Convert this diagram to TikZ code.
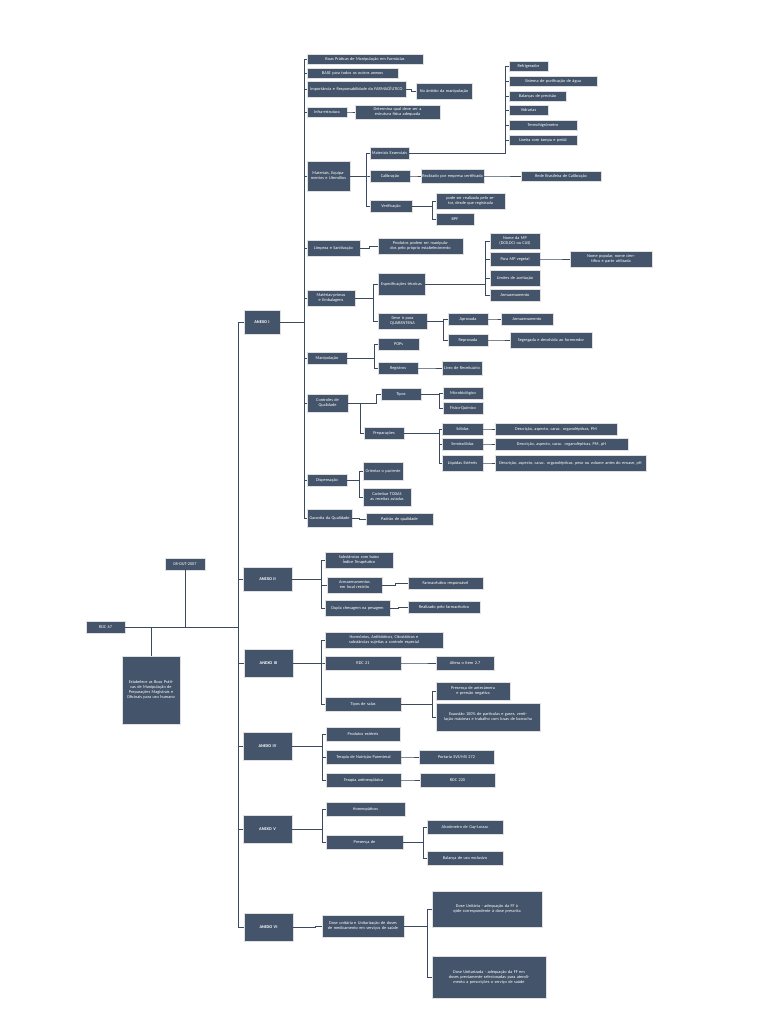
\documentclass[tikz,border=0pt]{standalone}
\usepackage{fontspec}
\setmainfont{Carlito}
\definecolor{bfill}{HTML}{44546A}
\definecolor{bline}{HTML}{3B4A5E}
\tikzset{bx/.style={fill=bfill,draw=black!12,line width=0.8pt,text=white,inner sep=0.5pt,align=center,font=\fontsize{4.3}{5}\selectfont},
ln/.style={draw=bline,line width=0.9pt}}
\newcommand\bx[6]{\pgfmathsetmacro\bw{#3-#2}\pgfmathsetmacro\tw{#3-#2-2}\pgfmathsetmacro\bc{(#3+#2)/2}%
\node[bx,minimum width=\bw pt,text width=\tw pt,minimum height=#5pt] (#1) at (\bc,#4) {#6};}
\newcommand\cn[3]{\draw[ln] (#1.east) -| (#3,0 |- #2.west) -- (#2.west);}
\begin{document}
\begin{tikzpicture}[x=1pt,y=-1pt]
\useasboundingbox (0,0) rectangle (768,1024);
% root
\bx{rdc}{86}{125}{627}{12}{RDC 67}
\bx{data}{165}{205}{564}{12}{08-OUT-2007}
\bx{est}{122}{180}{690}{68}{Estabelece as Boas Práticas de Manipulação de Preparações Magistrais e Oficinais para uso humano}
\coordinate (sp) at (238,627);
\draw[ln] (rdc.east) -- (sp);
\draw[ln] (data.south) -- (data.south |- sp);
\draw[ln] (est.north) -- (est.north |- sp);
% annexes
\bx{a1}{244}{280}{322}{24}{\textbf{ANEXO I}}
\bx{a2}{243}{292}{579}{24}{\textbf{ANEXO II}}
\bx{a3}{244}{293}{663}{28}{\textbf{ANEXO III}}
\bx{a4}{243}{292}{746}{28}{\textbf{ANEXO IV}}
\bx{a5}{243}{292}{829}{28}{\textbf{ANEXO V}}
\bx{a6}{244}{293}{927}{28}{\textbf{ANEXO VI}}
\coordinate (spt) at (238,322);
\coordinate (spb) at (238,927);
\draw[ln] (spt) -- (spb);
\foreach \a in {a1,a2,a3,a4,a5,a6} \draw[ln] (238,0 |- \a.west) -- (\a.west);
% ANEXO I
\bx{b1}{307}{423}{59}{10}{Boas Práticas de Manipulação em Farmácias}
\bx{b2}{307}{398}{73}{10}{BASE para todos os outros anexos}
\bx{b3}{307}{406}{89}{16}{Importância e Responsabilidade do FARMACÊUTICO}
\bx{b3a}{416}{472}{91}{16}{No âmbito da manipulação}
\bx{b4}{307}{347}{112}{10}{Infra-estrutura}
\bx{b4a}{355}{440}{112}{14}{Determina qual deve ser a estrutura física adequada}
\bx{b5}{307}{350}{176}{30}{Materiais, Equipamentos e Utensílios}
\bx{c1}{370}{409}{153}{12}{Materiais Essenciais}
\bx{d1}{509}{548}{66}{10}{Refrigerador}
\bx{d2}{509}{597}{81}{10}{Sistema de purificação de água}
\bx{d3}{509}{566}{96}{10}{Balanças de precisão}
\bx{d4}{509}{548}{110}{10}{Vidrarias}
\bx{d5}{509}{577}{125}{10}{Termohigrômetro}
\bx{d6}{509}{577}{140}{10}{Lixeira com tampa e pedal}
\bx{c2}{370}{410}{176}{12}{Calibração}
\bx{c2a}{421}{484}{176}{14}{Realizado por empresa certificada}
\bx{c2b}{521}{601}{176}{10}{Rede Brasileira de Calibração}
\bx{c3}{370}{412}{206}{12}{Verificação}
\bx{c3a}{436}{505}{201}{16}{pode ser realizada pelo setor, desde que registrada}
\bx{c3b}{436}{474}{219}{12}{BPF}
\bx{b6}{307}{360}{248}{16}{Limpeza e Sanitização}
\bx{b6a}{378}{463}{246}{16}{Produtos podem ser manipulados pelo próprio estabelecimento}
\bx{b7}{307}{355}{298}{16}{Matérias-primas e Embalagens}
\bx{e1}{378}{425}{284}{22}{Especificações técnicas}
\bx{f1}{490}{540}{241}{16}{Nome da MP (DCB,DCI ou CAS)}
\bx{f2}{490}{540}{259}{14}{Para MP vegetal}
\bx{f2a}{570}{652}{259}{16}{Nome popular, nome científico e parte utilizada}
\bx{f3}{490}{540}{278}{16}{Limites de aceitação}
\bx{f4}{490}{540}{295}{12}{Armazenamento}
\bx{e2}{378}{427}{321}{16}{Deve ir para QUARENTENA}
\bx{g1}{448}{488}{319}{12}{Aprovada}
\bx{g1a}{501}{553}{319}{12}{Armazenamento}
\bx{g2}{448}{488}{340}{12}{Reprovada}
\bx{g2a}{510}{592}{340}{16}{Segregada e devolvida ao fornecedor}
\bx{b8}{307}{347}{358}{12}{Manipulação}
\bx{h1}{378}{419}{344}{12}{POPs}
\bx{h2}{378}{418}{368}{12}{Registros}
\bx{h2a}{442}{482}{368}{14}{Livro de Receituário}
\bx{b9}{307}{348}{403}{18}{Controles de Qualidade}
\bx{i1}{381}{421}{394}{12}{Tipos}
\bx{j1}{443}{483}{393}{12}{Microbiológico}
\bx{j2}{443}{483}{408}{12}{Físico-Químico}
\bx{i2}{364}{404}{433}{12}{Preparações}
\bx{k1}{442}{483}{429}{12}{Sólidas}
\bx{k1a}{495}{617}{429}{12}{Descrição, aspecto, carac. organolépticas, PM}
\bx{k2}{442}{483}{444}{12}{Semissólidas}
\bx{k2a}{495}{628}{444}{12}{Descrição, aspecto, carac. organolépticas, PM, pH}
\bx{k3}{442}{483}{463}{16}{Líquidas Estéreis}
\bx{k3a}{495}{646}{463}{16}{Descrição, aspecto, carac. organolépticas, peso ou volume antes do envase, pH}
\bx{b10}{307}{347}{480}{12}{Dispensação}
\bx{l1}{363}{403}{471}{18}{Orientar o paciente}
\bx{l2}{363}{411}{497}{18}{Carimbar TODAS as receitas aviadas}
\bx{b11}{307}{352}{518}{18}{Garantia da Qualidade}
\bx{b11a}{366}{433}{519}{12}{Padrão de qualidade}
\foreach \n in {b1,b2,b3,b4,b5,b6,b7,b8,b9,b10,b11} {\cn{a1}{\n}{304}}
\cn{b3}{b3a}{411} \cn{b4}{b4a}{351} \cn{b6}{b6a}{369}
\foreach \n in {c1,c2,c3} {\cn{b5}{\n}{366}}
\foreach \n in {d1,d2,d3,d4,d5,d6} {\cn{c1}{\n}{505}}
\cn{c2}{c2a}{415} \cn{c2a}{c2b}{500}
\cn{c3}{c3a}{432} \cn{c3}{c3b}{432}
\cn{b7}{e1}{373} \cn{b7}{e2}{373}
\foreach \n in {f1,f2,f3,f4} {\cn{e1}{\n}{485}}
\cn{f2}{f2a}{555}
\cn{e2}{g1}{443} \cn{e2}{g2}{443} \cn{g1}{g1a}{495} \cn{g2}{g2a}{500}
\cn{b8}{h1}{374} \cn{b8}{h2}{374} \cn{h2}{h2a}{430}
\cn{b9}{i1}{376} \cn{b9}{i2}{360}
\cn{i1}{j1}{439} \cn{i1}{j2}{439}
\foreach \n in {k1,k2,k3} {\cn{i2}{\n}{439}}
\cn{k1}{k1a}{489} \cn{k2}{k2a}{489} \cn{k3}{k3a}{489}
\cn{b10}{l1}{359} \cn{b10}{l2}{359}
\cn{b11}{b11a}{359}
% ANEXO II
\bx{m1}{325}{393}{560}{16}{Substâncias com baixo Índice Terapêutico}
\bx{m2}{327}{382}{585}{16}{Armazenamentos em local restrito}
\bx{m2a}{408}{483}{583}{12}{Farmacêutico responsável}
\bx{m3}{325}{390}{608}{16}{Dupla checagem na pesagem}
\bx{m3a}{408}{480}{607}{12}{Realizado pelo farmacêutico}
\foreach \n in {m1,m2,m3} {\cn{a2}{\n}{321}}
\cn{m2}{m2a}{395} \cn{m3}{m3a}{398}
% ANEXO III
\bx{n1}{325}{443}{640}{16}{Hormônios, Antibióticos, Citostáticos e substâncias sujeitas a controle especial}
\bx{n2}{325}{401}{663}{14}{RDC 21}
\bx{n2a}{436}{494}{663}{14}{Altera o item 2.7}
\bx{n3}{325}{401}{704}{14}{Tipos de salas}
\bx{n3a}{436}{510}{691}{18}{Presença de antecâmera e pressão negativa}
\bx{n3b}{436}{540}{717}{28}{Exaustão 100\% de partículas e gases, ventilação máximas e trabalho com luvas de barracha}
\foreach \n in {n1,n2,n3} {\cn{a3}{\n}{321}}
\cn{n2}{n2a}{420} \cn{n3}{n3a}{432} \cn{n3}{n3b}{432}
% ANEXO IV
\bx{o1}{326}{400}{734}{14}{Produtos estéreis}
\bx{o2}{326}{401}{757}{14}{Terapia de Nutrição Parenteral}
\bx{o2a}{419}{494}{757}{14}{Portaria SVS/MS 272}
\bx{o3}{326}{401}{780}{14}{Terapia antineoplásica}
\bx{o3a}{420}{495}{780}{14}{RDC 220}
\foreach \n in {o1,o2,o3} {\cn{a4}{\n}{322}}
\cn{o2}{o2a}{410} \cn{o3}{o3a}{410}
% ANEXO V
\bx{p1}{326}{405}{809}{14}{Homeopáticos}
\bx{p2}{326}{403}{842}{14}{Presença de}
\bx{p2a}{427}{503}{827}{14}{Alcoômetro de Gay-Lussac}
\bx{p2b}{427}{503}{858}{14}{Balança de uso exclusivo}
\foreach \n in {p1,p2} {\cn{a5}{\n}{322}}
\cn{p2}{p2a}{423} \cn{p2}{p2b}{423}
% ANEXO VI
\bx{q1}{322}{404}{926}{22}{Dose unitária e Unitarização de doses de medicamento em serviços de saúde}
\bx{q1a}{432}{542}{909}{36}{Dose Unitária - adequação da FF à qtde correspondente à dose prescrita}
\bx{q1b}{432}{546}{977}{42}{Dose Unitarizada - adequação da FF em doses previamente selecionadas para atendimento a prescrições o serviço de saúde}
\cn{a6}{q1}{315}
\cn{q1}{q1a}{427} \cn{q1}{q1b}{427}
\end{tikzpicture}
\end{document}
